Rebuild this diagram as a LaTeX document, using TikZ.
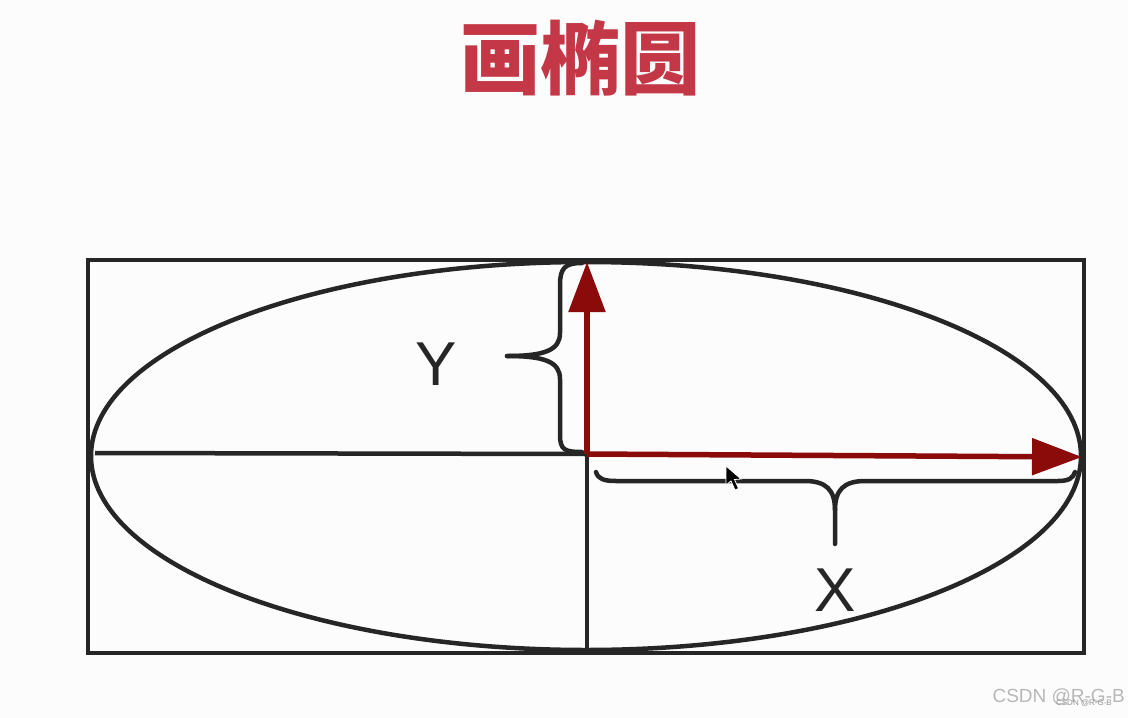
\documentclass[tikz,border=0pt]{standalone}
\usepackage{fontspec}
\setmainfont{Liberation Sans}
\newfontfamily\cjk{Noto Sans CJK SC}
\usetikzlibrary{arrows.meta}
\definecolor{ink}{HTML}{262626}
\definecolor{axred}{HTML}{8B0A0A}
\definecolor{titlered}{HTML}{C43746}
\definecolor{bg}{HTML}{FCFCFC}
\definecolor{wm}{HTML}{B8B8B8}
\tikzset{
  frame/.style={draw=ink, line width=4.5pt},
  brace/.style={draw=ink, line width=4.5pt, line cap=round, line join=round},
  axis/.style={draw=axred, line width=5.5pt, -{Triangle[length=50pt,width=36pt]}},
  lbl/.style={text=ink, font=\fontsize{62}{62}\selectfont, inner sep=0pt},
}
\begin{document}
\begin{tikzpicture}[x=1pt,y=-1pt]
\fill[bg] (0,0) rectangle (1128,718);
\useasboundingbox (0,0) rectangle (1128,718);
% title
\node[text=titlered, font=\cjk\bfseries\fontsize{80}{80}\selectfont, inner sep=0pt] (title) at (580,58) {画椭圆};
% coordinates
\coordinate (c) at (587,454);
\coordinate (top) at (587,262);
\coordinate (right) at (1082,457);
\coordinate (left) at (95,453);
\coordinate (bot) at (587,653);
% rectangle and ellipse
\draw[frame] (88,260) rectangle (1084,653);
\draw[frame] (586,456) ellipse [x radius=495, y radius=194];
% axes black
\draw[frame, line cap=butt] (left) -- (c);
\draw[frame, line cap=butt] (c) -- (bot);
% red arrows
\draw[axis] (c) -- (top);
\draw[axis] (c) -- (right);
% Y brace
\draw[brace] (582,263) .. controls (565,263) and (560,268) .. (560,285) -- (560,333)
  .. controls (560,350) and (545,356) .. (507,356);
\draw[brace] (507,356) .. controls (545,356) and (560,362) .. (560,379) -- (560,435)
  .. controls (560,450) and (565,452) .. (582,452);
% X brace
\draw[brace] (596,472) .. controls (598,479) and (604,481) .. (616,481) -- (805,481)
  .. controls (826,481) and (835,490) .. (835,510) -- (835,544);
\draw[brace] (835,510) .. controls (835,490) and (844,481) .. (865,481) -- (1058,481)
  .. controls (1069,481) and (1073,478) .. (1075,472);
% labels
\node[lbl] (ylbl) at (436,364) {Y};
\node[lbl] (xlbl) at (835,590) {X};
% cursor
\filldraw[fill=black, draw=white, line width=0.8pt] (726,466) -- (726,485) -- (731,481) -- (735,490) -- (738.5,488.5) -- (734.5,479.5) -- (741,479) -- cycle;
% watermark
\node[text=wm, font=\fontsize{19}{19}\selectfont, anchor=east, inner sep=0pt] (wm1) at (1125,697) {CSDN @R-G-B};
\node[text=wm!80!black, font=\fontsize{8}{8}\selectfont, anchor=east, inner sep=0pt] (wm2) at (1112,703) {CSDN @R-G-B};
\end{tikzpicture}
\end{document}
